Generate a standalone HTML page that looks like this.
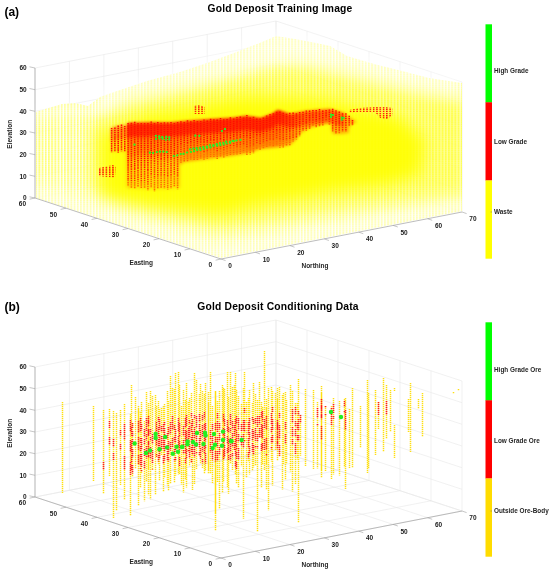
<!DOCTYPE html>
<html><head><meta charset="utf-8"><style>
html,body{margin:0;padding:0;background:#fff;width:550px;height:571px;overflow:hidden}
svg{display:block}
text{font-family:"Liberation Sans",Arial,sans-serif;font-weight:bold;fill:#262626}
.tk text{font-size:6.5px;fill:#1a1a1a}
.cb{font-size:6.4px}
.al{font-size:6.5px}
.pl{font-size:12px;fill:#000}
.ti{font-size:10.3px;fill:#000;letter-spacing:0.2px}
</style></head><body>
<svg width="550" height="571" viewBox="0 0 550 571">
<defs>
<filter id="s03" x="-5%" y="-5%" width="110%" height="110%"><feGaussianBlur stdDeviation="0.3"/></filter>
<filter id="b15" x="-5%" y="-10%" width="110%" height="120%"><feGaussianBlur stdDeviation="1.5"/></filter>
<filter id="b2" x="-10%" y="-10%" width="120%" height="120%"><feGaussianBlur stdDeviation="1.5"/></filter>
<filter id="b8" x="-20%" y="-20%" width="140%" height="140%"><feGaussianBlur stdDeviation="8"/></filter>
<filter id="b4" x="-20%" y="-20%" width="140%" height="140%"><feGaussianBlur stdDeviation="4"/></filter>
<linearGradient id="orgrad" gradientUnits="userSpaceOnUse" x1="0" y1="112" x2="0" y2="190"><stop offset="0" stop-color="#ff3000"/><stop offset="0.3" stop-color="#ff6000"/><stop offset="0.65" stop-color="#ff9400"/><stop offset="1" stop-color="#ffb800"/></linearGradient>
<linearGradient id="hmask" gradientUnits="userSpaceOnUse" x1="100" y1="0" x2="360" y2="0"><stop offset="0" stop-color="#505050"/><stop offset="0.1" stop-color="#505050"/><stop offset="0.11" stop-color="#d8d8d8"/><stop offset="0.68" stop-color="#d8d8d8"/><stop offset="0.78" stop-color="#808080"/><stop offset="1" stop-color="#707070"/></linearGradient>
<pattern id="ystripe" width="3.2" height="2.17" patternUnits="userSpaceOnUse"><rect width="1.9" height="2.17" fill="#ffff00" fill-opacity="0.36"/><rect width="1.9" height="1.5" fill="#ffff00" fill-opacity="0.25"/></pattern>
<pattern id="redcols" width="3.3" height="2.17" patternUnits="userSpaceOnUse"><rect width="1.7" height="1.6" fill="#ff1000"/></pattern>
<pattern id="redsparse" width="3.3" height="2.17" patternUnits="userSpaceOnUse"><rect width="1.5" height="1.5" fill="#ff1400"/></pattern>
</defs>
<rect width="550" height="571" fill="#fff"/>
<line x1="35" y1="198" x2="35" y2="68" stroke="#e8e8e8" stroke-width="0.6"/>
<line x1="69.4" y1="191.3" x2="69.4" y2="61.3" stroke="#e8e8e8" stroke-width="0.6"/>
<line x1="103.9" y1="184.6" x2="103.9" y2="54.6" stroke="#e8e8e8" stroke-width="0.6"/>
<line x1="138.3" y1="177.9" x2="138.3" y2="47.9" stroke="#e8e8e8" stroke-width="0.6"/>
<line x1="172.7" y1="171.1" x2="172.7" y2="41.1" stroke="#e8e8e8" stroke-width="0.6"/>
<line x1="207.2" y1="164.4" x2="207.2" y2="34.4" stroke="#e8e8e8" stroke-width="0.6"/>
<line x1="241.6" y1="157.7" x2="241.6" y2="27.7" stroke="#e8e8e8" stroke-width="0.6"/>
<line x1="276" y1="151" x2="276" y2="21" stroke="#e8e8e8" stroke-width="0.6"/>
<line x1="35" y1="198" x2="276" y2="151" stroke="#e8e8e8" stroke-width="0.6"/>
<line x1="35" y1="176.3" x2="276" y2="129.3" stroke="#e8e8e8" stroke-width="0.6"/>
<line x1="35" y1="154.7" x2="276" y2="107.7" stroke="#e8e8e8" stroke-width="0.6"/>
<line x1="35" y1="133" x2="276" y2="86" stroke="#e8e8e8" stroke-width="0.6"/>
<line x1="35" y1="111.3" x2="276" y2="64.3" stroke="#e8e8e8" stroke-width="0.6"/>
<line x1="35" y1="89.7" x2="276" y2="42.7" stroke="#e8e8e8" stroke-width="0.6"/>
<line x1="35" y1="68" x2="276" y2="21" stroke="#e8e8e8" stroke-width="0.6"/>
<line x1="462" y1="212" x2="462" y2="82" stroke="#e8e8e8" stroke-width="0.6"/>
<line x1="431" y1="201.8" x2="431" y2="71.8" stroke="#e8e8e8" stroke-width="0.6"/>
<line x1="400" y1="191.7" x2="400" y2="61.7" stroke="#e8e8e8" stroke-width="0.6"/>
<line x1="369" y1="181.5" x2="369" y2="51.5" stroke="#e8e8e8" stroke-width="0.6"/>
<line x1="338" y1="171.3" x2="338" y2="41.3" stroke="#e8e8e8" stroke-width="0.6"/>
<line x1="307" y1="161.2" x2="307" y2="31.2" stroke="#e8e8e8" stroke-width="0.6"/>
<line x1="276" y1="151" x2="276" y2="21" stroke="#e8e8e8" stroke-width="0.6"/>
<line x1="462" y1="212" x2="276" y2="151" stroke="#e8e8e8" stroke-width="0.6"/>
<line x1="462" y1="190.3" x2="276" y2="129.3" stroke="#e8e8e8" stroke-width="0.6"/>
<line x1="462" y1="168.7" x2="276" y2="107.7" stroke="#e8e8e8" stroke-width="0.6"/>
<line x1="462" y1="147" x2="276" y2="86" stroke="#e8e8e8" stroke-width="0.6"/>
<line x1="462" y1="125.3" x2="276" y2="64.3" stroke="#e8e8e8" stroke-width="0.6"/>
<line x1="462" y1="103.7" x2="276" y2="42.7" stroke="#e8e8e8" stroke-width="0.6"/>
<line x1="462" y1="82" x2="276" y2="21" stroke="#e8e8e8" stroke-width="0.6"/>
<line x1="221" y1="558" x2="462" y2="511" stroke="#e8e8e8" stroke-width="0.6"/>
<line x1="190" y1="547.8" x2="431" y2="500.8" stroke="#e8e8e8" stroke-width="0.6"/>
<line x1="159" y1="537.7" x2="400" y2="490.7" stroke="#e8e8e8" stroke-width="0.6"/>
<line x1="128" y1="527.5" x2="369" y2="480.5" stroke="#e8e8e8" stroke-width="0.6"/>
<line x1="97" y1="517.3" x2="338" y2="470.3" stroke="#e8e8e8" stroke-width="0.6"/>
<line x1="66" y1="507.2" x2="307" y2="460.2" stroke="#e8e8e8" stroke-width="0.6"/>
<line x1="35" y1="497" x2="276" y2="450" stroke="#e8e8e8" stroke-width="0.6"/>
<line x1="221" y1="558" x2="35" y2="497" stroke="#e8e8e8" stroke-width="0.6"/>
<line x1="255.4" y1="551.3" x2="69.4" y2="490.3" stroke="#e8e8e8" stroke-width="0.6"/>
<line x1="289.9" y1="544.6" x2="103.9" y2="483.6" stroke="#e8e8e8" stroke-width="0.6"/>
<line x1="324.3" y1="537.9" x2="138.3" y2="476.9" stroke="#e8e8e8" stroke-width="0.6"/>
<line x1="358.7" y1="531.1" x2="172.7" y2="470.1" stroke="#e8e8e8" stroke-width="0.6"/>
<line x1="393.1" y1="524.4" x2="207.2" y2="463.4" stroke="#e8e8e8" stroke-width="0.6"/>
<line x1="427.6" y1="517.7" x2="241.6" y2="456.7" stroke="#e8e8e8" stroke-width="0.6"/>
<line x1="462" y1="511" x2="276" y2="450" stroke="#e8e8e8" stroke-width="0.6"/>
<line x1="35" y1="497" x2="35" y2="367" stroke="#e8e8e8" stroke-width="0.6"/>
<line x1="69.4" y1="490.3" x2="69.4" y2="360.3" stroke="#e8e8e8" stroke-width="0.6"/>
<line x1="103.9" y1="483.6" x2="103.9" y2="353.6" stroke="#e8e8e8" stroke-width="0.6"/>
<line x1="138.3" y1="476.9" x2="138.3" y2="346.9" stroke="#e8e8e8" stroke-width="0.6"/>
<line x1="172.7" y1="470.1" x2="172.7" y2="340.1" stroke="#e8e8e8" stroke-width="0.6"/>
<line x1="207.2" y1="463.4" x2="207.2" y2="333.4" stroke="#e8e8e8" stroke-width="0.6"/>
<line x1="241.6" y1="456.7" x2="241.6" y2="326.7" stroke="#e8e8e8" stroke-width="0.6"/>
<line x1="276" y1="450" x2="276" y2="320" stroke="#e8e8e8" stroke-width="0.6"/>
<line x1="35" y1="497" x2="276" y2="450" stroke="#e8e8e8" stroke-width="0.6"/>
<line x1="35" y1="475.3" x2="276" y2="428.3" stroke="#e8e8e8" stroke-width="0.6"/>
<line x1="35" y1="453.7" x2="276" y2="406.7" stroke="#e8e8e8" stroke-width="0.6"/>
<line x1="35" y1="432" x2="276" y2="385" stroke="#e8e8e8" stroke-width="0.6"/>
<line x1="35" y1="410.3" x2="276" y2="363.3" stroke="#e8e8e8" stroke-width="0.6"/>
<line x1="35" y1="388.7" x2="276" y2="341.7" stroke="#e8e8e8" stroke-width="0.6"/>
<line x1="35" y1="367" x2="276" y2="320" stroke="#e8e8e8" stroke-width="0.6"/>
<line x1="462" y1="511" x2="462" y2="381" stroke="#e8e8e8" stroke-width="0.6"/>
<line x1="431" y1="500.8" x2="431" y2="370.8" stroke="#e8e8e8" stroke-width="0.6"/>
<line x1="400" y1="490.7" x2="400" y2="360.7" stroke="#e8e8e8" stroke-width="0.6"/>
<line x1="369" y1="480.5" x2="369" y2="350.5" stroke="#e8e8e8" stroke-width="0.6"/>
<line x1="338" y1="470.3" x2="338" y2="340.3" stroke="#e8e8e8" stroke-width="0.6"/>
<line x1="307" y1="460.2" x2="307" y2="330.2" stroke="#e8e8e8" stroke-width="0.6"/>
<line x1="276" y1="450" x2="276" y2="320" stroke="#e8e8e8" stroke-width="0.6"/>
<line x1="462" y1="511" x2="276" y2="450" stroke="#e8e8e8" stroke-width="0.6"/>
<line x1="462" y1="489.3" x2="276" y2="428.3" stroke="#e8e8e8" stroke-width="0.6"/>
<line x1="462" y1="467.7" x2="276" y2="406.7" stroke="#e8e8e8" stroke-width="0.6"/>
<line x1="462" y1="446" x2="276" y2="385" stroke="#e8e8e8" stroke-width="0.6"/>
<line x1="462" y1="424.3" x2="276" y2="363.3" stroke="#e8e8e8" stroke-width="0.6"/>
<line x1="462" y1="402.7" x2="276" y2="341.7" stroke="#e8e8e8" stroke-width="0.6"/>
<line x1="462" y1="381" x2="276" y2="320" stroke="#e8e8e8" stroke-width="0.6"/>
<polygon points="36,112 45,109 62,104 75,103 88,106 100,97 120,90 147,81 180,72 207,63 234,53 262,42 276,36 295,39 316,43 330,46 347,56 374,64 402,71 429,78 462,83 462,211 221,258 36,198" fill="#fff" fill-opacity="0.8"/>
<polygon points="36,112 45,109 62,104 75,103 88,106 100,97 120,90 147,81 180,72 207,63 234,53 262,42 276,36 295,39 316,43 330,46 347,56 374,64 402,71 429,78 462,83 462,211 221,258 36,198" fill="url(#ystripe)"/>
<g filter="url(#b4)"><polygon points="100,90 147,74 207,56 262,35 276,29 316,36 374,57 429,71 462,76 462,105 429,100 374,88 316,72 276,66 262,70 207,88 147,104 100,115" fill="#fff" fill-opacity="0.55"/></g>
<g filter="url(#b4)"><polygon points="30,108 62,100 88,102 104,92 104,116 62,118 30,122" fill="#fff" fill-opacity="0.35"/></g>
<clipPath id="c0clip"><polygon points="36,112 45,109 62,104 75,103 88,106 100,97 120,90 147,81 180,72 207,63 234,53 262,42 276,36 295,39 316,43 330,46 347,56 374,64 402,71 429,78 462,83 462,211 221,258 36,198"/></clipPath>
<g clip-path="url(#c0clip)">
<g filter="url(#b8)"><polygon points="90,125 130,100 200,85 260,72 300,65 350,75 420,92 466,100 466,200 350,212 221,232 130,212 90,190" fill="#ffff00" fill-opacity="0.4"/></g>
<g filter="url(#b8)"><polygon points="100,135 150,114 250,96 330,100 400,118 425,140 420,175 385,185 330,192 260,205 221,215 160,208 102,198" fill="#ffff00" fill-opacity="0.9"/></g>
</g>
<g filter="url(#b8)"><polygon points="30,200 221,262 470,212 462,190 221,235 36,178" fill="#fff" fill-opacity="0.35"/></g>
<g filter="url(#b4)"><polygon points="30,200 221,262 470,212 462,200 221,248 36,190" fill="#fff" fill-opacity="0.35"/></g>
<mask id="rmask" maskUnits="userSpaceOnUse" x="0" y="0" width="550" height="300"><rect x="0" y="0" width="550" height="300" fill="url(#hmask)"/><polygon points="126,158 182,158 182,196 126,196" fill="#000" fill-opacity="0.45" filter="url(#b4)"/></mask>
<g mask="url(#rmask)"><g filter="url(#b15)"><polygon points="111,128 116,126 127,124.5 128,123 150,122.5 170,122.7 188,121 215,119 232,118 246,116 261,118 272,114 278,110 290,114 306,111 316,110 330,109 344,113 351,118 357,122 357,122 352,124 349.1,128 349,133 342,134 333,134 331,129 330.9,123.5 328,123 322,124.5 310,128 301,133 296,140 290,145 280,147 270,148 260,149 250,152.7 230,156 200,160 185,162 180,165 180,188 170,189 150,189.5 127,188 125,187 125,152 111,152" fill="url(#orgrad)"/></g></g>
<g mask="url(#rmask)"><g filter="url(#b15)"><polygon points="111,128.5 116,126.5 127,125 128,123.5 150,123 170,123.2 188,121.5 215,119.5 232,118.5 246,116.5 261,118.5 272,114.5 278,110.5 290,114.5 306,111.5 316,110.5 330,109.5 344,113.5 344,127 330,123 316,124 306,125 290,128 278,124 272,128 261,132 246,130 232,132 215,133 188,135 170,136.7 150,136.5 128,137 127,138.5 116,140 111,142" fill="#ff1400" fill-opacity="0.8"/></g></g>
<path d="M111.6 127.9V150M114.9 127.5V149.6M118.2 125.5V150.1M121.5 124.6V148.5M124.8 125.9V149.5M128.1 123.1V167.2M131.4 122.7V168.8M134.7 121.7V168.8M138 123.1V167.8M141.3 123V169.1M144.6 123.1V168.9M147.9 123V170.1M151.2 121.4V157.9M154.5 123V160.5M157.8 122V158.9M161.1 122.8V159M164.4 122.3V158.7M167.7 122.4V159.3M171 122.1V158.6M174.3 122.9V158M177.6 122.1V159M180.9 121.2V144.4M184.2 122.1V143.7M187.5 120.3V142.9M190.8 121.3V142.4M194.1 120.1V142.1M197.4 121.1V142.6M200.7 120.9V141.6M204 119.4V141.8M207.3 120.5V141.6M210.6 118.7V139.8M213.9 119.2V139.9M217.2 119.6V141.3M220.5 117.9V139.1M223.8 119.2V140.2M227.1 119V139.2M230.4 117.2V138M233.7 118.5V138.3M237 116.9V137.6M240.3 116.6V137.1M243.6 117.4V136.6M246.9 114.9V137M250.2 117.5V137.9M253.5 116.8V136.8M256.8 118.5V135.3M260.1 118.5V136M263.4 117.5V134.7M266.7 115.4V133.2M270 114.1V131.8M273.3 113.3V131.8M276.6 111.7V130.3M279.9 111.6V131.5M283.2 112.8V132.1M286.5 113.8V131.5M289.8 112.8V131.1M293.1 112.6V130M296.4 113.2V129M299.7 112V126.7M303 111.8V123.5M306.3 110.4V123.1M309.6 110.6V121.8M312.9 110V119.5M316.2 110.1V120.5M319.5 109V119.4M322.8 110.5V119.5M326.1 110.1V116.9M329.4 109.4V118.6M332.7 108.7V122.9M336 110.2V124.5M339.3 111.5V124.9M342.6 113.3V124.5M345.9 113.3V124.5M349.2 115.8V122M352.5 120.1V123.2" stroke="#ff0c00" stroke-width="1.55" stroke-dasharray="1.45 0.72" fill="none"/>
<path d="M111.6 150V152.5M114.9 149.6V152M118.2 150.1V152.9M121.5 148.5V151.2M124.8 149.5V152.1M128.1 167.2V179.8M131.4 168.8V182M134.7 168.8V182.2M138 167.8V180.6M141.3 169.1V182.2M144.6 168.9V182M147.9 170.1V183.6M151.2 157.9V174.4M154.5 160.5V177.6M157.8 158.9V175.7M161.1 159V175.4M164.4 158.7V175.2M167.7 159.3V176M171 158.6V175.2M174.3 158V173.9M177.6 159V175.8M180.9 144.4V154.9M184.2 143.7V153.6M187.5 142.9V153.2M190.8 142.4V152M194.1 142.1V152.1M197.4 142.6V152.3M200.7 141.6V151M204 141.8V151.9M207.3 141.6V151.2M210.6 139.8V149.4M213.9 139.9V149.4M217.2 141.3V151.2M220.5 139.1V148.7M223.8 140.2V149.8M227.1 139.2V148.4M230.4 138V147.5M233.7 138.3V147.3M237 137.6V147M240.3 137.1V146.5M243.6 136.6V145.4M246.9 137V147M250.2 137.9V147.2M253.5 136.8V145.9M256.8 135.3V143M260.1 136V144M263.4 134.7V142.5M266.7 133.2V141.2M270 131.8V139.8M273.3 131.8V140.1M276.6 130.3V138.8M279.9 131.5V140.5M283.2 132.1V140.9M286.5 131.5V139.6M289.8 131.1V139.4M293.1 130V138.7M296.4 129V136.9M299.7 126.7V134.1M303 123.5V129.3M306.3 123.1V129.4M309.6 121.8V127.5M312.9 119.5V124.3M316.2 120.5V125.7M319.5 119.4V124.7M322.8 119.5V124M326.1 116.9V120.4M329.4 118.6V123.2M332.7 122.9V130M336 124.5V131.7M339.3 124.9V131.6M342.6 124.5V130.1M345.9 124.5V130.1M349.2 122V125.1M352.5 123.2V124.7" stroke="#ff3000" stroke-width="1.55" stroke-dasharray="1.45 0.72" fill="none"/>
<path d="M128.1 179.8V186.1M131.4 182V188.6M134.7 182.2V189M138 180.6V187M141.3 182.2V188.8M144.6 182V188.6M147.9 183.6V190.3M151.2 174.4V187.7M154.5 177.6V191.2M157.8 175.7V189.1M161.1 175.4V188.5M164.4 175.2V188.4M167.7 176V189.4M171 175.2V188.4M174.3 173.9V186.7M177.6 175.8V189.2M180.9 154.9V163.4M184.2 153.6V161.4M187.5 153.2V161.4M190.8 152V159.6M194.1 152.1V160.1M197.4 152.3V160.1M200.7 151V158.6M204 151.9V160.1M207.3 151.2V158.8M210.6 149.4V157.1M213.9 149.4V156.9M217.2 151.2V159.1M220.5 148.7V156.4M223.8 149.8V157.4M227.1 148.4V155.8M230.4 147.5V155.1M233.7 147.3V154.5M237 147V154.5M240.3 146.5V153.9M243.6 145.4V152.4M246.9 147V155M250.2 147.2V154.6M253.5 145.9V153.2M256.8 143V149.1M260.1 144V150.3M263.4 142.5V148.7M266.7 141.2V147.7M270 139.8V146.3M273.3 140.1V146.8M276.6 138.8V145.5M279.9 140.5V147.8M283.2 140.9V147.9M286.5 139.6V146M289.8 139.4V146M293.1 138.7V141.6M296.4 136.9V139.5M299.7 134.1V136.6M303 129.3V131.3M306.3 129.4V131.5M309.6 127.5V129.4M312.9 124.3V125.9M316.2 125.7V127.5M319.5 124.7V126.4M322.8 124V125.5M326.1 120.4V121.5M329.4 123.2V124.7M332.7 130V132.3M336 131.7V134.1M339.3 131.6V133.9M342.6 130.1V131.9M345.9 130.1V132M349.2 125.1V126.1M352.5 124.7V125.2" stroke="#ff6a00" stroke-width="1.55" stroke-dasharray="1.45 0.72" fill="none"/>
<polygon points="193,106 199,105 205,107 205,114 193,114" fill="url(#redsparse)"/>
<polygon points="99,168 113,165 116,167 115,178 99,176" fill="url(#redsparse)"/>
<polygon points="349,110 360,108 375,107 385,107 393,108 393,115 387,119 380,118 375,112 360,112 349,113" fill="url(#redsparse)"/>
<rect x="172.7" y="154.9" width="2.2" height="2.2" rx="0.8" fill="#28f028"/>
<rect x="176.1" y="154.2" width="2.2" height="2.2" rx="0.8" fill="#28f028"/>
<rect x="179.6" y="152.9" width="2.2" height="2.2" rx="0.8" fill="#28f028"/>
<rect x="182.4" y="152.8" width="2.2" height="2.2" rx="0.8" fill="#28f028"/>
<rect x="185.9" y="151.4" width="2.2" height="2.2" rx="0.8" fill="#28f028"/>
<rect x="189.8" y="150.9" width="2.2" height="2.2" rx="0.8" fill="#28f028"/>
<rect x="193" y="150.1" width="2.2" height="2.2" rx="0.8" fill="#28f028"/>
<rect x="196.1" y="148.9" width="2.2" height="2.2" rx="0.8" fill="#28f028"/>
<rect x="199.4" y="148.9" width="2.2" height="2.2" rx="0.8" fill="#28f028"/>
<rect x="202.6" y="147.9" width="2.2" height="2.2" rx="0.8" fill="#28f028"/>
<rect x="206" y="146.5" width="2.2" height="2.2" rx="0.8" fill="#28f028"/>
<rect x="209.4" y="146.2" width="2.2" height="2.2" rx="0.8" fill="#28f028"/>
<rect x="212.3" y="144.8" width="2.2" height="2.2" rx="0.8" fill="#28f028"/>
<rect x="216.1" y="144.5" width="2.2" height="2.2" rx="0.8" fill="#28f028"/>
<rect x="219.3" y="144.1" width="2.2" height="2.2" rx="0.8" fill="#28f028"/>
<rect x="222.6" y="143.3" width="2.2" height="2.2" rx="0.8" fill="#28f028"/>
<rect x="225.6" y="142.4" width="2.2" height="2.2" rx="0.8" fill="#28f028"/>
<rect x="229" y="141.7" width="2.2" height="2.2" rx="0.8" fill="#28f028"/>
<rect x="232.6" y="140.1" width="2.2" height="2.2" rx="0.8" fill="#28f028"/>
<rect x="235.3" y="139.4" width="2.2" height="2.2" rx="0.8" fill="#28f028"/>
<rect x="239.3" y="138.8" width="2.2" height="2.2" rx="0.8" fill="#28f028"/>
<rect x="189" y="148.2" width="2.2" height="2.2" rx="0.8" fill="#28f028"/>
<rect x="192.2" y="147.6" width="2.2" height="2.2" rx="0.8" fill="#28f028"/>
<rect x="195.4" y="147.1" width="2.2" height="2.2" rx="0.8" fill="#28f028"/>
<rect x="198.9" y="146.8" width="2.2" height="2.2" rx="0.8" fill="#28f028"/>
<rect x="202.2" y="146.1" width="2.2" height="2.2" rx="0.8" fill="#28f028"/>
<rect x="205.7" y="145.5" width="2.2" height="2.2" rx="0.8" fill="#28f028"/>
<rect x="208.8" y="144" width="2.2" height="2.2" rx="0.8" fill="#28f028"/>
<rect x="212.3" y="144.1" width="2.2" height="2.2" rx="0.8" fill="#28f028"/>
<rect x="215.6" y="143" width="2.2" height="2.2" rx="0.8" fill="#28f028"/>
<rect x="218.8" y="142" width="2.2" height="2.2" rx="0.8" fill="#28f028"/>
<rect x="222.2" y="141.7" width="2.2" height="2.2" rx="0.8" fill="#28f028"/>
<rect x="225" y="140.5" width="2.2" height="2.2" rx="0.8" fill="#28f028"/>
<rect x="228.8" y="140.7" width="2.2" height="2.2" rx="0.8" fill="#28f028"/>
<rect x="231.5" y="139.8" width="2.2" height="2.2" rx="0.8" fill="#28f028"/>
<rect x="148.8" y="151.6" width="2.2" height="2.2" rx="0.8" fill="#28f028"/>
<rect x="152" y="151.9" width="2.2" height="2.2" rx="0.8" fill="#28f028"/>
<rect x="155.8" y="150.9" width="2.2" height="2.2" rx="0.8" fill="#28f028"/>
<rect x="158.9" y="150.6" width="2.2" height="2.2" rx="0.8" fill="#28f028"/>
<rect x="162.3" y="150.6" width="2.2" height="2.2" rx="0.8" fill="#28f028"/>
<rect x="165.7" y="150.9" width="2.2" height="2.2" rx="0.8" fill="#28f028"/>
<rect x="154.9" y="137.9" width="2.2" height="2.2" rx="0.8" fill="#28f028"/>
<rect x="154.7" y="134.8" width="2.2" height="2.2" rx="0.8" fill="#28f028"/>
<rect x="158.3" y="137.2" width="2.2" height="2.2" rx="0.8" fill="#28f028"/>
<rect x="158" y="135.3" width="2.2" height="2.2" rx="0.8" fill="#28f028"/>
<rect x="161.6" y="137.5" width="2.2" height="2.2" rx="0.8" fill="#28f028"/>
<rect x="161.1" y="136" width="2.2" height="2.2" rx="0.8" fill="#28f028"/>
<rect x="164.7" y="138.6" width="2.2" height="2.2" rx="0.8" fill="#28f028"/>
<rect x="165.1" y="135.8" width="2.2" height="2.2" rx="0.8" fill="#28f028"/>
<rect x="168.1" y="138.4" width="2.2" height="2.2" rx="0.8" fill="#28f028"/>
<rect x="168.2" y="136.2" width="2.2" height="2.2" rx="0.8" fill="#28f028"/>
<rect x="133.4" y="143.6" width="2.2" height="2.2" rx="0.8" fill="#28f028"/>
<rect x="194.2" y="134.6" width="2.2" height="2.2" rx="0.8" fill="#28f028"/>
<rect x="198.3" y="134.7" width="2.2" height="2.2" rx="0.8" fill="#28f028"/>
<rect x="220.9" y="129.9" width="2.2" height="2.2" rx="0.8" fill="#28f028"/>
<rect x="223.9" y="127.9" width="2.2" height="2.2" rx="0.8" fill="#28f028"/>
<rect x="329.9" y="113.5" width="2.2" height="2.2" rx="0.8" fill="#28f028"/>
<rect x="329.9" y="115.7" width="2.2" height="2.2" rx="0.8" fill="#28f028"/>
<rect x="331.9" y="113.9" width="2.2" height="2.2" rx="0.8" fill="#28f028"/>
<rect x="340.7" y="116.4" width="2.2" height="2.2" rx="0.8" fill="#28f028"/>
<rect x="340.7" y="118.6" width="2.2" height="2.2" rx="0.8" fill="#28f028"/>
<rect x="342.5" y="116.9" width="2.2" height="2.2" rx="0.8" fill="#28f028"/>
<g>
<path d="M62.5 402V493M93.5 406V481M103.5 410V494M109.5 409V476M113.5 411V518M116.5 413V511M120.5 410V485M124.5 404V500M130.5 414V516M321.5 386V478M331.5 406V479M345.5 398V489M349.5 409V468M352.5 388V468M360.5 406V448M367.5 380V473M368.5 393V468M375.5 390V455M378.5 402V429M383.5 378V452M386.5 385V439M390.5 390V432M394.5 425V458M394.5 388V391M410.5 383V452M408.5 399V432M418.5 399V409M422.5 393V437M453.5 392V394M458.5 389V391M264.5 351V470M131.5 385V470M132.5 423V476.5M135.5 397V468.7M138.5 409V464.1M138.5 406V505.5M140.5 412V487.5M141.5 402V473.7M144.5 421V501.3M146.5 392V481.6M148.5 410V469M148.5 403V495.2M150.5 391V499.2M152.5 396V469.6M155.5 395V494.6M156.5 406V456.8M158.5 401V464.2M159.5 409V480.7M161.5 408V455M163.5 406V491.5M164.5 404V477.5M167.5 391V485.6M168.5 401V490.9M170.5 376V483.2M172.5 388V454.4M174.5 389V482.4M175.5 373V475.8M178.5 372V474.4M179.5 385V474.1M181.5 406V484.5M183.5 390V492.6M185.5 400V479.2M186.5 383V487.5M188.5 402V451.9M189.5 398V466.2M191.5 393V462.7M192.5 419V490.1M194.5 373V484.1M196.5 380V469M199.5 394V456M200.5 384V463.8M202.5 391V468M204.5 394V473.2M205.5 383V470.8M208.5 392V473.8M208.5 403V470.3M210.5 372V473.5M212.5 406V483.1M215.5 391V530.9M215.5 392V514.3M217.5 401V481.9M219.5 391V508.5M222.5 385V492.6M223.5 388V482.3M224.5 389V458.2M227.5 372V486.9M228.5 397V493.8M230.5 372V464.1M232.5 387V470.1M234.5 385V450.1M235.5 373V474.9M236.5 390V484M238.5 396V487.7M241.5 404V466.3M243.5 388V518.7M244.5 372V441.3M246.5 402V477.9M248.5 398V462M249.5 390V474.4M252.5 403V470.9M253.5 383V467.5M255.5 394V465.3M257.5 400V531.7M259.5 382V437.7M261.5 402V487.2M262.5 407V464.3M266.5 408V489.6M266.5 399V464.6M268.5 388V510.2M271.5 387V461.4M272.5 391V485.5M275.5 393V450M277.5 399V460.3M277.5 388V444.5M279.5 387V456.2M282.5 395V489.6M283.5 393V464M285.5 392V480.1M286.5 400V463.9M290.5 385V471.4M292.5 399V491.6M292.5 391V459.7M295.5 403V483.9M297.5 403V459.4M298.5 379V522.4M300.5 415V455.7M305.5 389V466M313.5 390V469M317.5 402V468.5M321.5 393V470.4M325.5 406V471M333.5 398V474.5M339.5 401V475.4M344.5 399V467.2" stroke="#ffe010" stroke-width="1.5" stroke-dasharray="1.3 0.7" fill="none"/>
<path d="M103.5 462V470M109.5 421V428M109.5 437V445M113.5 439V447M113.5 453V460M120.5 430V436M120.5 444V450M124.5 424V440M124.5 456V470M130.5 420V432M130.5 440V452M130.5 462V475M321.5 406V418M321.5 426V440M331.5 408V425M345.5 410V430M378.5 402V415M386.5 401V415M264.5 419V428M264.5 439V450M131.5 427V435.7M131.5 441V453.4M131.5 455V463M131.5 465V470M132.5 423V428.1M132.5 431V436.4M132.5 439V444.1M132.5 449V457.3M132.5 465V473.6M138.5 421V432.9M138.5 437V449.7M138.5 455V464.1M140.5 418V431.2M140.5 438V442.9M140.5 446V451.4M140.5 454V465.8M140.5 468V469M141.5 424V430.3M141.5 438V450.1M141.5 454V466.8M141.5 470V471.2M144.5 429V436.9M144.5 439V444.2M144.5 449V456.1M144.5 461V469.1M146.5 418V431M146.5 434V440.3M146.5 446V458.6M148.5 416V423.1M148.5 430V435.9M148.5 442V452.8M148.5 456V457.7M148.5 421V427.1M148.5 429V435.9M148.5 441V445.2M148.5 449V455.9M150.5 429V433.8M150.5 437V440.2M150.5 447V458.7M152.5 434V443.4M152.5 450V462.9M152.5 470V469.6M156.5 422V433M156.5 436V445.8M156.5 454V456.8M158.5 417V421.8M158.5 427V436.2M158.5 439V450.6M158.5 455V461.5M159.5 419V429.7M159.5 435V447.2M159.5 451V458.7M161.5 426V431.9M161.5 436V449.2M163.5 424V432.4M163.5 436V448.7M163.5 456V463.7M164.5 422V425.8M164.5 428V437.1M164.5 440V451.6M164.5 454V460.4M167.5 433V439.2M167.5 445V449.9M167.5 451V460.7M168.5 427V435M168.5 441V454.8M168.5 457V461.4M170.5 422V434.2M170.5 442V450.5M172.5 416V429.6M172.5 438V446.9M172.5 454V453.8M174.5 425V430.1M174.5 437V441.6M174.5 449V454.1M174.5 459V461.2M175.5 429V442.5M175.5 445V451.2M175.5 457V461.1M178.5 418V431.9M178.5 436V447.6M179.5 423V436.6M179.5 441V449.7M179.5 457V466.1M183.5 426V435.4M183.5 440V445.3M183.5 450V453.8M185.5 418V428M185.5 430V441.9M185.5 444V453.8M185.5 458V463.3M186.5 415V426.1M186.5 431V443.8M186.5 449V458.6M188.5 428V442.6M188.5 450V451.9M189.5 420V423.4M189.5 426V437.5M189.5 444V457.7M191.5 413V417.6M191.5 423V432.1M191.5 437V443M191.5 447V452.1M191.5 459V462.7M192.5 419V427M192.5 431V441.6M192.5 443V454.7M194.5 415V419.1M194.5 427V438.5M194.5 445V457.3M196.5 416V428.1M196.5 434V446.9M196.5 452V453.6M199.5 414V422M199.5 424V431.6M199.5 438V447.7M199.5 452V456M200.5 430V441M200.5 448V458.4M202.5 415V420.5M202.5 425V437.1M202.5 443V451.4M202.5 459V463.2M204.5 412V418.4M204.5 424V428.9M204.5 434V444M204.5 446V453.3M205.5 423V433.3M205.5 437V441.2M205.5 445V449.1M205.5 453V463.6M210.5 430V439.7M210.5 442V452.6M212.5 424V430.6M212.5 436V444.3M212.5 450V460.3M215.5 423V430M215.5 437V445.7M215.5 451V461.6M217.5 413V418.6M217.5 421V431.9M217.5 437V447.5M217.5 451V460.3M219.5 423V429.4M219.5 433V440.5M219.5 447V455M223.5 414V422.3M223.5 428V435.4M223.5 442V446.9M223.5 450V459.8M224.5 419V426.1M224.5 429V439.9M224.5 445V456.9M227.5 420V432.1M227.5 436V443.2M227.5 448V453.2M228.5 427V432.8M228.5 439V452.2M228.5 455V459.9M230.5 414V425M230.5 428V432.4M230.5 438V451.8M230.5 454V460.2M232.5 421V429.3M232.5 433V447M232.5 453V456.2M234.5 425V436.1M234.5 443V450.1M235.5 419V431M235.5 439V446.7M235.5 449V455.7M235.5 461V467.2M236.5 416V423.8M236.5 430V442.4M236.5 444V449.7M236.5 452V459M236.5 462V468.9M238.5 418V429.8M238.5 434V441.3M238.5 448V460.1M241.5 424V430.9M241.5 436V445.2M243.5 420V430.4M243.5 434V438.9M243.5 442V447.2M244.5 408V412.7M244.5 420V432.1M244.5 440V441.3M248.5 422V434.8M248.5 438V447.4M248.5 452V458.2M249.5 418V429.7M249.5 432V440.3M249.5 446V453.5M252.5 417V420.3M252.5 429V440.2M252.5 443V451.8M253.5 419V424M253.5 431V437.7M253.5 445V455M255.5 418V424M255.5 428V440.8M255.5 446V447.3M257.5 416V426.9M257.5 434V441.7M257.5 446V448.3M259.5 416V424.3M259.5 428V437.7M261.5 412V417.8M261.5 424V437.9M261.5 444V451M262.5 411V421.4M262.5 425V438.6M262.5 443V449.6M266.5 416V429.2M266.5 438V449.3M266.5 454V455.2M271.5 413V424.9M271.5 427V433M271.5 437V443.2M271.5 447V449.3M272.5 407V412.1M272.5 419V429.9M272.5 435V442.8M277.5 423V431.5M277.5 437V449.2M277.5 420V429.5M277.5 432V437.1M277.5 442V444.5M279.5 413V417.8M279.5 425V438.9M279.5 445V455.8M285.5 422V430.1M285.5 434V444.1M292.5 409V423M292.5 427V436.6M292.5 439V444.2M295.5 407V414.5M295.5 421V426.7M295.5 429V436.2M295.5 443V454.1M297.5 423V429.4M297.5 435V440.2M298.5 411V415.4M298.5 419V430.7M298.5 435V440.9M300.5 415V423.1M317.5 408V417.3M317.5 424V425.8M321.5 399V409.8M321.5 415V419.3M325.5 406V407.5M325.5 414V415.6M333.5 404V412.9M333.5 416V418.8M344.5 401V406.3M344.5 411V412.5" stroke="#ff1a1a" stroke-width="1.5" stroke-dasharray="1.3 0.7" fill="none"/>
<circle cx="134.6" cy="443.5" r="2.2" fill="#22ee22"/>
<circle cx="146" cy="453" r="2.2" fill="#22ee22"/>
<circle cx="150" cy="450.5" r="2.2" fill="#22ee22"/>
<circle cx="155.6" cy="434" r="2.2" fill="#22ee22"/>
<circle cx="155.6" cy="438" r="2.2" fill="#22ee22"/>
<circle cx="159.5" cy="449.3" r="2.2" fill="#22ee22"/>
<circle cx="165.2" cy="437" r="2.2" fill="#22ee22"/>
<circle cx="167" cy="447.4" r="2.2" fill="#22ee22"/>
<circle cx="172.8" cy="453.7" r="2.2" fill="#22ee22"/>
<circle cx="176.6" cy="446.7" r="2.2" fill="#22ee22"/>
<circle cx="178" cy="451.8" r="2.2" fill="#22ee22"/>
<circle cx="182.4" cy="446.7" r="2.2" fill="#22ee22"/>
<circle cx="187.5" cy="444.2" r="2.2" fill="#22ee22"/>
<circle cx="182" cy="447" r="2.2" fill="#22ee22"/>
<circle cx="187.6" cy="441.5" r="2.2" fill="#22ee22"/>
<circle cx="193" cy="442" r="2.2" fill="#22ee22"/>
<circle cx="197" cy="433" r="2.2" fill="#22ee22"/>
<circle cx="196" cy="444.5" r="2.2" fill="#22ee22"/>
<circle cx="205" cy="432.7" r="2.2" fill="#22ee22"/>
<circle cx="205.6" cy="435.4" r="2.2" fill="#22ee22"/>
<circle cx="203.5" cy="444" r="2.2" fill="#22ee22"/>
<circle cx="212.7" cy="448" r="2.2" fill="#22ee22"/>
<circle cx="215" cy="444.7" r="2.2" fill="#22ee22"/>
<circle cx="214" cy="434" r="2.2" fill="#22ee22"/>
<circle cx="223" cy="431.6" r="2.2" fill="#22ee22"/>
<circle cx="223" cy="440" r="2.2" fill="#22ee22"/>
<circle cx="222" cy="445.8" r="2.2" fill="#22ee22"/>
<circle cx="231" cy="441" r="2.2" fill="#22ee22"/>
<circle cx="231.5" cy="441.3" r="2.2" fill="#22ee22"/>
<circle cx="241.7" cy="440" r="2.2" fill="#22ee22"/>
<circle cx="331" cy="412" r="2.2" fill="#22ee22"/>
<circle cx="341" cy="417" r="2.2" fill="#22ee22"/>
</g>
<line x1="35" y1="198" x2="221" y2="259" stroke="#a0a0a0" stroke-width="0.7"/>
<line x1="221" y1="259" x2="462" y2="212" stroke="#a0a0a0" stroke-width="0.7"/>
<line x1="35" y1="198" x2="35" y2="68" stroke="#a0a0a0" stroke-width="0.7"/>
<line x1="35" y1="198" x2="29.5" y2="196.8" stroke="#a0a0a0" stroke-width="0.6"/>
<line x1="35" y1="176.3" x2="29.5" y2="175.1" stroke="#a0a0a0" stroke-width="0.6"/>
<line x1="35" y1="154.7" x2="29.5" y2="153.5" stroke="#a0a0a0" stroke-width="0.6"/>
<line x1="35" y1="133" x2="29.5" y2="131.8" stroke="#a0a0a0" stroke-width="0.6"/>
<line x1="35" y1="111.3" x2="29.5" y2="110.1" stroke="#a0a0a0" stroke-width="0.6"/>
<line x1="35" y1="89.7" x2="29.5" y2="88.5" stroke="#a0a0a0" stroke-width="0.6"/>
<line x1="35" y1="68" x2="29.5" y2="66.8" stroke="#a0a0a0" stroke-width="0.6"/>
<line x1="221" y1="259" x2="215.6" y2="260.2" stroke="#a0a0a0" stroke-width="0.6"/>
<line x1="190" y1="248.8" x2="184.6" y2="250" stroke="#a0a0a0" stroke-width="0.6"/>
<line x1="159" y1="238.7" x2="153.6" y2="239.9" stroke="#a0a0a0" stroke-width="0.6"/>
<line x1="128" y1="228.5" x2="122.6" y2="229.7" stroke="#a0a0a0" stroke-width="0.6"/>
<line x1="97" y1="218.3" x2="91.6" y2="219.5" stroke="#a0a0a0" stroke-width="0.6"/>
<line x1="66" y1="208.2" x2="60.6" y2="209.4" stroke="#a0a0a0" stroke-width="0.6"/>
<line x1="35" y1="198" x2="29.6" y2="199.2" stroke="#a0a0a0" stroke-width="0.6"/>
<line x1="221" y1="259" x2="225.6" y2="260.6" stroke="#a0a0a0" stroke-width="0.6"/>
<line x1="255.4" y1="252.3" x2="260" y2="253.9" stroke="#a0a0a0" stroke-width="0.6"/>
<line x1="289.9" y1="245.6" x2="294.5" y2="247.2" stroke="#a0a0a0" stroke-width="0.6"/>
<line x1="324.3" y1="238.9" x2="328.9" y2="240.5" stroke="#a0a0a0" stroke-width="0.6"/>
<line x1="358.7" y1="232.1" x2="363.3" y2="233.7" stroke="#a0a0a0" stroke-width="0.6"/>
<line x1="393.1" y1="225.4" x2="397.8" y2="227" stroke="#a0a0a0" stroke-width="0.6"/>
<line x1="427.6" y1="218.7" x2="432.2" y2="220.3" stroke="#a0a0a0" stroke-width="0.6"/>
<line x1="462" y1="212" x2="466.6" y2="213.6" stroke="#a0a0a0" stroke-width="0.6"/>
<g class="tk"><text x="26.7" y="200.2" text-anchor="end">0</text><text x="26.7" y="178.5" text-anchor="end">10</text><text x="26.7" y="156.9" text-anchor="end">20</text><text x="26.7" y="135.2" text-anchor="end">30</text><text x="26.7" y="113.5" text-anchor="end">40</text><text x="26.7" y="91.9" text-anchor="end">50</text><text x="26.7" y="70.2" text-anchor="end">60</text><text x="212.1" y="267.3" text-anchor="end">0</text><text x="181.1" y="257.1" text-anchor="end">10</text><text x="150.1" y="247" text-anchor="end">20</text><text x="119.1" y="236.8" text-anchor="end">30</text><text x="88.1" y="226.6" text-anchor="end">40</text><text x="57.1" y="216.5" text-anchor="end">50</text><text x="26.1" y="206.3" text-anchor="end">60</text><text x="228.3" y="268.3">0</text><text x="262.7" y="261.6">10</text><text x="297.2" y="254.9">20</text><text x="331.6" y="248.2">30</text><text x="366" y="241.4">40</text><text x="400.4" y="234.7">50</text><text x="434.9" y="228">60</text><text x="469.3" y="221.3">70</text></g>
<line x1="35" y1="497" x2="221" y2="558" stroke="#a0a0a0" stroke-width="0.7"/>
<line x1="221" y1="558" x2="462" y2="511" stroke="#a0a0a0" stroke-width="0.7"/>
<line x1="35" y1="497" x2="35" y2="367" stroke="#a0a0a0" stroke-width="0.7"/>
<line x1="35" y1="497" x2="29.5" y2="495.8" stroke="#a0a0a0" stroke-width="0.6"/>
<line x1="35" y1="475.3" x2="29.5" y2="474.1" stroke="#a0a0a0" stroke-width="0.6"/>
<line x1="35" y1="453.7" x2="29.5" y2="452.5" stroke="#a0a0a0" stroke-width="0.6"/>
<line x1="35" y1="432" x2="29.5" y2="430.8" stroke="#a0a0a0" stroke-width="0.6"/>
<line x1="35" y1="410.3" x2="29.5" y2="409.1" stroke="#a0a0a0" stroke-width="0.6"/>
<line x1="35" y1="388.7" x2="29.5" y2="387.5" stroke="#a0a0a0" stroke-width="0.6"/>
<line x1="35" y1="367" x2="29.5" y2="365.8" stroke="#a0a0a0" stroke-width="0.6"/>
<line x1="221" y1="558" x2="215.6" y2="559.2" stroke="#a0a0a0" stroke-width="0.6"/>
<line x1="190" y1="547.8" x2="184.6" y2="549" stroke="#a0a0a0" stroke-width="0.6"/>
<line x1="159" y1="537.7" x2="153.6" y2="538.9" stroke="#a0a0a0" stroke-width="0.6"/>
<line x1="128" y1="527.5" x2="122.6" y2="528.7" stroke="#a0a0a0" stroke-width="0.6"/>
<line x1="97" y1="517.3" x2="91.6" y2="518.5" stroke="#a0a0a0" stroke-width="0.6"/>
<line x1="66" y1="507.2" x2="60.6" y2="508.4" stroke="#a0a0a0" stroke-width="0.6"/>
<line x1="35" y1="497" x2="29.6" y2="498.2" stroke="#a0a0a0" stroke-width="0.6"/>
<line x1="221" y1="558" x2="225.6" y2="559.6" stroke="#a0a0a0" stroke-width="0.6"/>
<line x1="255.4" y1="551.3" x2="260" y2="552.9" stroke="#a0a0a0" stroke-width="0.6"/>
<line x1="289.9" y1="544.6" x2="294.5" y2="546.2" stroke="#a0a0a0" stroke-width="0.6"/>
<line x1="324.3" y1="537.9" x2="328.9" y2="539.5" stroke="#a0a0a0" stroke-width="0.6"/>
<line x1="358.7" y1="531.1" x2="363.3" y2="532.7" stroke="#a0a0a0" stroke-width="0.6"/>
<line x1="393.1" y1="524.4" x2="397.8" y2="526" stroke="#a0a0a0" stroke-width="0.6"/>
<line x1="427.6" y1="517.7" x2="432.2" y2="519.3" stroke="#a0a0a0" stroke-width="0.6"/>
<line x1="462" y1="511" x2="466.6" y2="512.6" stroke="#a0a0a0" stroke-width="0.6"/>
<g class="tk"><text x="26.7" y="499.2" text-anchor="end">0</text><text x="26.7" y="477.5" text-anchor="end">10</text><text x="26.7" y="455.9" text-anchor="end">20</text><text x="26.7" y="434.2" text-anchor="end">30</text><text x="26.7" y="412.5" text-anchor="end">40</text><text x="26.7" y="390.9" text-anchor="end">50</text><text x="26.7" y="369.2" text-anchor="end">60</text><text x="212.1" y="566.3" text-anchor="end">0</text><text x="181.1" y="556.1" text-anchor="end">10</text><text x="150.1" y="546" text-anchor="end">20</text><text x="119.1" y="535.8" text-anchor="end">30</text><text x="88.1" y="525.6" text-anchor="end">40</text><text x="57.1" y="515.5" text-anchor="end">50</text><text x="26.1" y="505.3" text-anchor="end">60</text><text x="228.3" y="567.3">0</text><text x="262.7" y="560.6">10</text><text x="297.2" y="553.9">20</text><text x="331.6" y="547.2">30</text><text x="366" y="540.4">40</text><text x="400.4" y="533.7">50</text><text x="434.9" y="527">60</text><text x="469.3" y="520.3">70</text></g>
<rect x="485.5" y="24.3" width="6.5" height="78.3" fill="#00ff00"/>
<rect x="485.5" y="102.3" width="6.5" height="78.3" fill="#ff0000"/>
<rect x="485.5" y="180.4" width="6.5" height="78.3" fill="#ffff00"/>
<line x1="492" y1="71" x2="490.5" y2="71" stroke="#606060" stroke-width="0.5"/>
<text class="cb" x="494" y="73.3">High Grade</text>
<line x1="492" y1="141.8" x2="490.5" y2="141.8" stroke="#606060" stroke-width="0.5"/>
<text class="cb" x="494" y="144.1">Low Grade</text>
<line x1="492" y1="212" x2="490.5" y2="212" stroke="#606060" stroke-width="0.5"/>
<text class="cb" x="494" y="214.3">Waste</text>
<rect x="485.5" y="322.3" width="6.5" height="78.3" fill="#00ff00"/>
<rect x="485.5" y="400.3" width="6.5" height="78.3" fill="#ff0000"/>
<rect x="485.5" y="478.4" width="6.5" height="78.3" fill="#ffdc00"/>
<line x1="492" y1="370" x2="490.5" y2="370" stroke="#606060" stroke-width="0.5"/>
<text class="cb" x="494" y="372.3">High Grade Ore</text>
<line x1="492" y1="440.8" x2="490.5" y2="440.8" stroke="#606060" stroke-width="0.5"/>
<text class="cb" x="494" y="443.1">Low Grade Ore</text>
<line x1="492" y1="511" x2="490.5" y2="511" stroke="#606060" stroke-width="0.5"/>
<text class="cb" x="494" y="513.3">Outside Ore-Body</text>
<text class="pl" x="4.4" y="15.8">(a)</text>
<text class="pl" x="4.4" y="311.2">(b)</text>
<text class="ti" x="280" y="11.8" text-anchor="middle">Gold Deposit Training Image</text>
<text class="ti" x="278" y="309.6" text-anchor="middle">Gold Deposit Conditioning Data</text>
<text class="al" transform="translate(11.9,134.3) rotate(-90)" text-anchor="middle">Elevation</text>
<text class="al" x="141.3" y="264.9" text-anchor="middle">Easting</text>
<text class="al" x="315" y="268.2" text-anchor="middle">Northing</text>
<text class="al" transform="translate(11.9,433.3) rotate(-90)" text-anchor="middle">Elevation</text>
<text class="al" x="141.3" y="563.9" text-anchor="middle">Easting</text>
<text class="al" x="315" y="567.2" text-anchor="middle">Northing</text>
</svg>
</body></html>
